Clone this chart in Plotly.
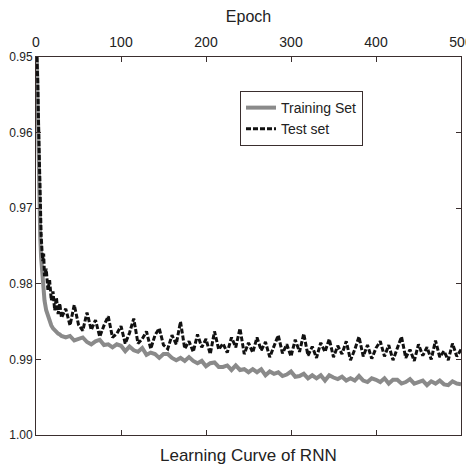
import plotly.graph_objects as go

# epochs at which the curves are sampled
epochs = [1, 2, 3, 4, 5, 6, 7, 8, 9, 10, 12, 14, 16, 18, 20, 22, 24, 26, 28, 30,
          35, 40, 45, 50, 55, 60, 65, 70, 75, 80, 85, 90, 95, 100,
          105, 110, 115, 120, 125, 130, 135, 140, 145, 150, 155, 160, 165, 170, 175, 180,
          185, 190, 195, 200, 205, 210, 215, 220, 225, 230, 235, 240, 245, 250, 255, 260,
          265, 270, 275, 280, 285, 290, 295, 300, 305, 310, 315, 320, 325, 330, 335, 340,
          345, 350, 355, 360, 365, 370, 375, 380, 385, 390, 395, 400, 405, 410, 415, 420,
          425, 430, 435, 440, 445, 450, 455, 460, 465, 470, 475, 480, 485, 490, 495, 500]

training_acc = [0.9500, 0.9580, 0.9650, 0.9700, 0.9738, 0.9765, 0.9785, 0.9800, 0.9812, 0.9822,
                0.9835, 0.9843, 0.9850, 0.9855, 0.9859, 0.9862, 0.9864, 0.9866, 0.9867, 0.9869,
                0.9871, 0.9869, 0.9875, 0.9873, 0.9871, 0.9877, 0.9880, 0.9876, 0.9874, 0.9881,
                0.9880, 0.9884, 0.9880, 0.9882,
                0.9889, 0.9883, 0.9888, 0.9890, 0.9885, 0.9894, 0.9891, 0.9893, 0.9898, 0.9893,
                0.9893, 0.9898, 0.9901, 0.9898, 0.9902, 0.9897,
                0.9902, 0.9905, 0.9902, 0.9909, 0.9905, 0.9904, 0.9910, 0.9910, 0.9908, 0.9914,
                0.9908, 0.9914, 0.9913, 0.9917, 0.9913, 0.9917,
                0.9913, 0.9921, 0.9916, 0.9919, 0.9917, 0.9922, 0.9920, 0.9916, 0.9923, 0.9922,
                0.9919, 0.9925, 0.9921, 0.9925, 0.9921, 0.9928,
                0.9921, 0.9924, 0.9926, 0.9923, 0.9928, 0.9925, 0.9928, 0.9922, 0.9928, 0.9930,
                0.9925, 0.9927, 0.9930, 0.9925, 0.9932, 0.9927,
                0.9927, 0.9932, 0.9930, 0.9926, 0.9932, 0.9930, 0.9928, 0.9934, 0.9929, 0.9932,
                0.9928, 0.9933, 0.9934, 0.9929, 0.9932, 0.9933]

test_acc = [0.9500, 0.9530, 0.9590, 0.9650, 0.9700, 0.9735, 0.9755, 0.9770, 0.9760, 0.9790,
            0.9780, 0.9808, 0.9795, 0.9822, 0.9810, 0.9835, 0.9818, 0.9840, 0.9826, 0.9845,
            0.9833, 0.9855, 0.9828, 0.9854, 0.9862, 0.9838, 0.9861, 0.9848, 0.9870, 0.9855,
            0.9843, 0.9871, 0.9866, 0.9856,
            0.9879, 0.9865, 0.9846, 0.9879, 0.9873, 0.9863, 0.9886, 0.9868, 0.9859, 0.9881,
            0.9886, 0.9868, 0.9880, 0.9850, 0.9886, 0.9876,
            0.9890, 0.9867, 0.9884, 0.9873, 0.9893, 0.9863, 0.9887, 0.9879, 0.9891, 0.9871,
            0.9884, 0.9859, 0.9893, 0.9878, 0.9891, 0.9871,
            0.9888, 0.9877, 0.9897, 0.9882, 0.9868, 0.9892, 0.9880, 0.9896, 0.9874, 0.9890,
            0.9866, 0.9895, 0.9883, 0.9898, 0.9878, 0.9890,
            0.9873, 0.9897, 0.9882, 0.9893, 0.9876, 0.9901, 0.9887, 0.9870, 0.9896, 0.9881,
            0.9899, 0.9885, 0.9876, 0.9896, 0.9881, 0.9901,
            0.9885, 0.9870, 0.9898, 0.9887, 0.9902, 0.9880, 0.9895, 0.9884, 0.9900, 0.9875,
            0.9897, 0.9889, 0.9901, 0.9879, 0.9896, 0.9887]

x_ticks = [0, 100, 200, 300, 400, 500]
y_ticks = [0.95, 0.96, 0.97, 0.98, 0.99, 1.00]

font_family = "Arial, Liberation Sans, sans-serif"
frame_color = "#3a2e2e"

fig = go.Figure()
fig.add_trace(go.Scatter(x=epochs, y=training_acc, mode="lines", name="Training Set",
                         line=dict(color="#8a8a8a", width=4)))
fig.add_trace(go.Scatter(x=epochs, y=test_acc, mode="lines", name="Test set",
                         line=dict(color="#111111", width=3, dash="5px,2px")))

# the page body adds an 8px offset, so the figure is 466 px square
fig.update_layout(
    width=466, height=466,
    margin=dict(l=28, r=13, t=49, b=39),
    paper_bgcolor="white", plot_bgcolor="white",
    font=dict(family=font_family, size=14, color="#222"),
    showlegend=True,
    legend=dict(x=0.48, y=0.91, xanchor="left", yanchor="top",
                bgcolor="white", bordercolor=frame_color, borderwidth=1,
                font=dict(size=14), itemwidth=30, tracegroupgap=0),
    xaxis=dict(range=[0, 500], side="top", tickvals=x_ticks,
               title=dict(text="Epoch", font=dict(size=16), standoff=18),
               ticklabelstandoff=3,
               showline=True, linecolor=frame_color, linewidth=1, mirror="ticks",
               ticks="inside", ticklen=5, tickcolor=frame_color,
               showgrid=False, zeroline=False, automargin=False),
    yaxis=dict(range=[1.00, 0.95], tickvals=y_ticks, tickformat=".2f",
               tickfont=dict(size=12),
               showline=True, linecolor=frame_color, linewidth=1, mirror="ticks",
               ticks="inside", ticklen=5, tickcolor=frame_color,
               showgrid=False, zeroline=False, automargin=False),
    annotations=[dict(text="Learning Curve of RNN", x=0.5, y=-0.053, xref="paper", yref="paper",
                      yanchor="middle", showarrow=False, font=dict(size=17))],
)

fig.write_html("out.html")
